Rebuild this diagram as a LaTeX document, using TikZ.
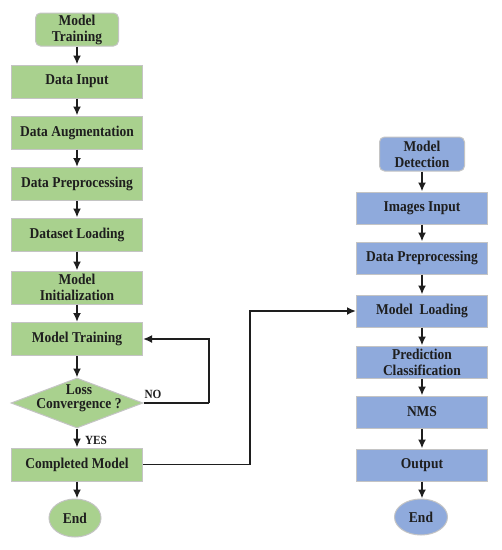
\documentclass[tikz,border=0pt]{standalone}
\usepackage{fontspec}
\setmainfont{Liberation Serif}[FakeStretch=0.9]
\usetikzlibrary{arrows.meta,shapes.geometric}
\definecolor{gfill}{HTML}{A9D18E}
\definecolor{bfill}{HTML}{8FAADC}
\definecolor{bord}{HTML}{C4C4C4}
\definecolor{ink}{HTML}{1E1E1E}
\begin{document}
\begin{tikzpicture}[x=1pt,y=-1pt,
  base/.style={draw=bord, line width=1pt, text=ink, align=center,
    font=\fontsize{15}{16}\selectfont\bfseries, inner sep=0pt},
  gbox/.style={base, fill=gfill, minimum width=131pt, minimum height=33pt},
  bbox/.style={base, fill=bfill, minimum width=131pt, minimum height=32pt},
  groundbox/.style={base, fill=gfill, rounded corners=5pt, minimum width=83pt, minimum height=33pt},
  broundbox/.style={base, fill=bfill, rounded corners=5pt, minimum width=85pt, minimum height=34pt},
  gendnode/.style={base, fill=gfill, ellipse, minimum width=52pt, minimum height=38pt},
  bendnode/.style={base, fill=bfill, ellipse, minimum width=53pt, minimum height=36pt},
  gdiam/.style={draw=bord, line width=1pt, fill=gfill, diamond, inner sep=0pt,
    minimum width=132pt, minimum height=50pt},
  lbl/.style={text=ink, font=\fontsize{12.5}{14}\selectfont\bfseries, inner sep=0pt},
  arr/.style={draw=ink, line width=1.8pt, -{Latex[length=9pt,width=8pt]}},
  ln/.style={draw=ink, line width=1.8pt}
]
\useasboundingbox[fill=white] (0,0) rectangle (502,550);
% left column
\node[groundbox] (mt0) at (77,29.5) {Model\\Training};
\node[gbox] (di) at (77,81.5) {Data Input};
\node[gbox] (da) at (77,132.5) {Data Augmentation};
\node[gbox] (dp) at (77,184) {Data Preprocessing};
\node[gbox] (dl) at (77,234.5) {Dataset Loading};
\node[gbox] (mi) at (77,287.5) {Model\\Initialization};
\node[gbox] (mt) at (77,339) {Model Training};
\node[gdiam] (loss) at (77,403) {};
\node[base, draw=none, font=\fontsize{15}{14}\selectfont\bfseries] (losst) at (79,398) {Loss\\Convergence ?};
\node[gbox] (cm) at (77,464.5) {Completed Model};
\node[gendnode] (end1) at (75,518) {End};
\node[lbl] (no) at (153,394) {NO};
\node[lbl] (yes) at (96,440) {YES};
% right column
\node[broundbox] (md) at (422,154) {Model\\Detection};
\node[bbox] (ii) at (422,208) {Images Input};
\node[bbox] (dp2) at (422,258) {Data Preprocessing};
\node[bbox] (ml) at (422,311) {Model~ Loading};
\node[bbox] (pc) at (422,362) {Prediction\\Classification};
\node[bbox] (nms) at (422,412) {NMS};
\node[bbox] (out) at (422,465) {Output};
\node[bendnode] (end2) at (421,517) {End};
% connectors left
\draw[arr] (mt0) -- (di);
\draw[arr] (di) -- (da);
\draw[arr] (da) -- (dp);
\draw[arr] (dp) -- (dl);
\draw[arr] (dl) -- (mi);
\draw[arr] (mi) -- (mt);
\draw[arr] (mt) -- (loss.north);
\draw[arr] (loss.south) -- (cm);
\draw[arr] (cm.south) -- (cm.south |- end1.north);
\coordinate (noc) at (209,403);
\draw[ln] (loss.east) -- (noc);
\draw[arr] (noc) |- (mt.east);
% connectors right
\draw[arr] (md) -- (ii);
\draw[arr] (ii) -- (dp2);
\draw[arr] (dp2) -- (ml);
\draw[arr] (ml) -- (pc);
\draw[arr] (pc) -- (nms);
\draw[arr] (nms) -- (out);
\draw[arr] (out.south) -- (out.south |- end2.north);
% cross link
\coordinate (jn) at (250,464.5);
\draw[ln] (cm.east) -- (jn);
\draw[arr] (jn) |- (ml.west);
\end{tikzpicture}
\end{document}
